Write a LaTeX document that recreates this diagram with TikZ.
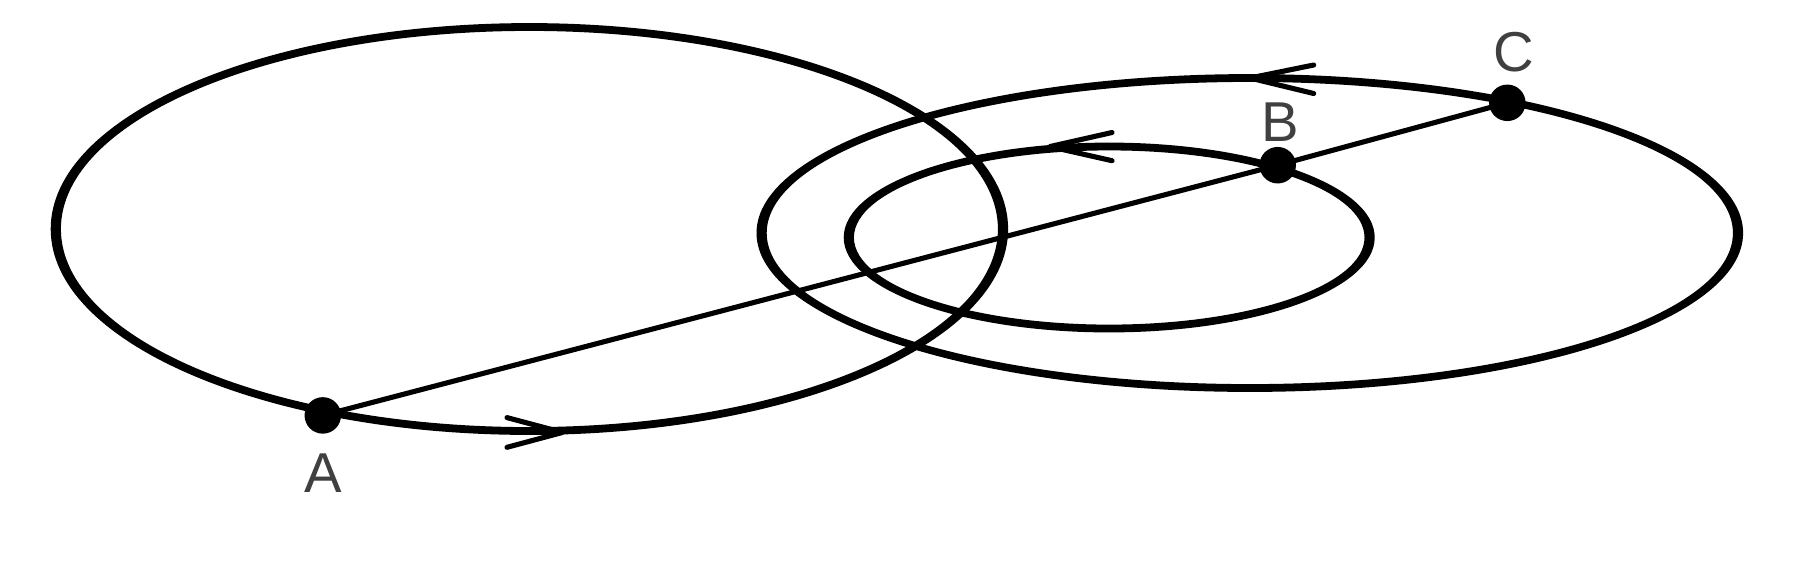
\documentclass[tikz,border=0pt]{standalone}
\usepackage{fontspec}
\setmainfont{Liberation Sans}
\usetikzlibrary{positioning}

\tikzset{
	orbit/.style={fill=black, even odd rule},
	chord/.style={line width=1.45pt},
	chevron/.style={line width=1.45pt, line cap=round, line join=round},
	dot/.style={circle, fill=black, inner sep=0pt, minimum size=0.365cm},
	lbl/.style={text=black!75, font=\fontsize{16}{19}\selectfont, inner sep=0pt}
}

\begin{document}
\begin{tikzpicture}[node distance=0.2cm]
	\useasboundingbox (0,0) rectangle (18.02,5.82);
	% orbits (stroke a bit wider at the sides)
	\foreach \cx/\cy/\rx/\ry in {5.294/3.53/4.736/2.02, 12.498/3.49/4.882/1.55, 11.092/3.445/2.604/0.91}
		\fill[orbit] (\cx,\cy) ellipse [x radius=\rx+0.051, y radius=\ry+0.039]
			ellipse [x radius=\rx-0.051, y radius=\ry-0.039];
	% direction marks
	\draw[chevron] (5.07,1.644) -- (5.626,1.496) -- (5.07,1.347);
	\draw[chevron] (13.137,5.17) -- (12.498,5.04) -- (13.137,4.885);
	\draw[chevron] (11.12,4.495) -- (10.497,4.354) -- (11.12,4.213);
	% points
	\node[dot] (A) at (3.228,1.666) {};
	\node[dot] (B) at (12.777,4.168) {};
	\node[dot] (C) at (15.073,4.792) {};
	\draw[chord] (A.center) -- (B.center) -- (C.center);
	\node[lbl] (la) [below=0.19cm of A] {A};
	\node[lbl] (lb) [above=0.04cm of B, xshift=0.03cm] {B};
	\node[lbl] (lc) [above=0.11cm of C, xshift=0.06cm] {C};
\end{tikzpicture}
\end{document}
